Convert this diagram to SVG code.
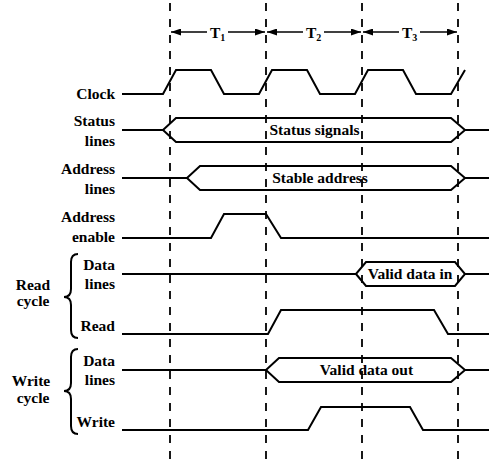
<svg xmlns="http://www.w3.org/2000/svg" width="496" height="472" viewBox="0 0 496 472">
<style>
  .grid{stroke:#000;stroke-width:1.8;stroke-dasharray:8 8;fill:none}
  .sig{stroke:#000;stroke-width:2;fill:none;stroke-linejoin:miter}
  .arr{stroke:#000;stroke-width:1.4;fill:none}
  .brace{stroke:#000;stroke-width:2;fill:none}
  text{font-family:"Liberation Serif","Times New Roman",serif;font-weight:bold;font-size:15.5px;fill:#000}
  .r{text-anchor:end}
  .m{text-anchor:middle}
  .sub{font-size:10px}
</style>
<defs>
  <marker id="ah" markerUnits="userSpaceOnUse" markerWidth="10" markerHeight="7" refX="10" refY="3.5" orient="auto-start-reverse">
    <path d="M0,0 L10,3.5 L0,7 Z" fill="#000"/>
  </marker>
</defs>
<rect width="496" height="472" fill="#fff"/>
<g id="grid">
  <line class="grid" x1="170" y1="3" x2="170" y2="460"/>
  <line class="grid" x1="266" y1="3" x2="266" y2="460"/>
  <line class="grid" x1="362" y1="3" x2="362" y2="460"/>
  <line class="grid" x1="458" y1="3" x2="458" y2="460"/>
</g>
<g id="connectors">
  <line class="arr" x1="207" y1="32" x2="171" y2="32" marker-end="url(#ah)"/>
  <line class="arr" x1="228" y1="32" x2="265" y2="32" marker-end="url(#ah)"/>
  <line class="arr" x1="303" y1="32" x2="267" y2="32" marker-end="url(#ah)"/>
  <line class="arr" x1="324" y1="32" x2="361" y2="32" marker-end="url(#ah)"/>
  <line class="arr" x1="399" y1="32" x2="363" y2="32" marker-end="url(#ah)"/>
  <line class="arr" x1="420" y1="32" x2="457" y2="32" marker-end="url(#ah)"/>
</g>
<g id="periods">
  <text x="210" y="38">T<tspan class="sub" dy="3">1</tspan></text>
  <text x="306" y="38">T<tspan class="sub" dy="3">2</tspan></text>
  <text x="402" y="38">T<tspan class="sub" dy="3">3</tspan></text>
</g>
<g id="clock">
  <text class="r" x="115" y="99">Clock</text>
  <path class="sig" d="M122,94 H163 L176,70 H211 L224,94 H259 L272,70 H307 L320,94 H355 L368,70 H403 L416,94 H451 L465,70"/>
</g>
<g id="status">
  <text class="r" x="115" y="126">Status</text>
  <text class="r" x="115" y="146">lines</text>
  <path class="sig" d="M122,130 H163 L176,118 H451 L465,130 L451,142 H176 L163,130 M465,130 H489"/>
  <text class="m" x="314.5" y="135">Status signals</text>
</g>
<g id="address">
  <text class="r" x="115" y="174">Address</text>
  <text class="r" x="115" y="194">lines</text>
  <path class="sig" d="M122,178 H187 L200,166 H451 L465,178 L451,190 H200 L187,178 M465,178 H489"/>
  <text class="m" x="320" y="183">Stable address</text>
</g>
<g id="address-enable">
  <text class="r" x="115" y="222">Address</text>
  <text class="r" x="115" y="242">enable</text>
  <path class="sig" d="M122,238 H211 L224,214 H266 L281,238 H489"/>
</g>
<g id="read-cycle">
  <text class="m" x="33" y="290">Read</text>
  <text class="m" x="33" y="306">cycle</text>
  <path class="brace" d="M78,254 Q71,254 71,262 V289 Q71,297 64,297 Q71,297 71,305 V330 Q71,338 78,338"/>
</g>
<g id="read-data">
  <text class="r" x="115" y="270">Data</text>
  <text class="r" x="115" y="289">lines</text>
  <path class="sig" d="M122,274 H356 L366,262 H455 L465,274 L455,286 H366 L356,274 M465,274 H489"/>
  <text class="m" x="410" y="279">Valid data in</text>
</g>
<g id="read">
  <text class="r" x="115" y="331">Read</text>
  <path class="sig" d="M122,334 H268 L281,310 H434 L448,334 H489"/>
</g>
<g id="write-cycle">
  <text class="m" x="31" y="386">Write</text>
  <text class="m" x="33" y="403">cycle</text>
  <path class="brace" d="M78,349 Q71,349 71,357 V383 Q71,391 64,391 Q71,391 71,399 V426 Q71,434 78,434"/>
</g>
<g id="write-data">
  <text class="r" x="115" y="366">Data</text>
  <text class="r" x="115" y="385">lines</text>
  <path class="sig" d="M122,370 H266 L279,358 H451 L465,370 L451,382 H279 L266,370 M465,370 H489"/>
  <text class="m" x="366.5" y="375">Valid data out</text>
</g>
<g id="write">
  <text class="r" x="115" y="427">Write</text>
  <path class="sig" d="M122,430 H308 L321,407 H410 L423,430 H489"/>
</g>
</svg>
